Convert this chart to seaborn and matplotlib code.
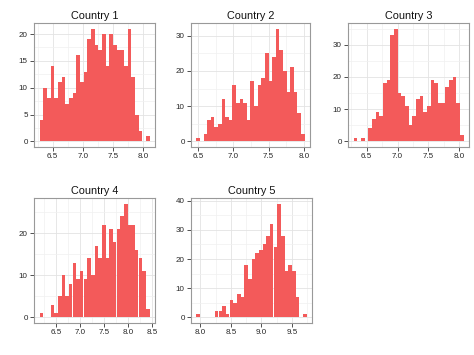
import numpy as np
import pandas as pd
import matplotlib
matplotlib.use("Agg")
import matplotlib.pyplot as plt
from matplotlib.ticker import AutoMinorLocator
import seaborn as sns

# ---- data: 30-bin histograms ----
countries = ["Country 1", "Country 2", "Country 3", "Country 4", "Country 5"]

bin_range_1 = (6.28, 8.11)
counts_1 = [4, 10, 8, 14, 8, 11, 12, 7, 8, 9, 16, 11, 13, 19, 21, 18, 17, 20, 14, 20,
            18, 17, 17, 14, 21, 12, 5, 2, 0, 1]

bin_range_2 = (6.477, 8.01)
counts_2 = [1, 0, 2, 6, 7, 4, 5, 12, 7, 6, 16, 11, 12, 11, 6, 17, 10, 16, 18, 25,
            17, 24, 32, 26, 20, 14, 21, 14, 8, 2]

bin_range_3 = (6.285, 8.07)
counts_3 = [1, 0, 1, 0, 4, 7, 9, 8, 18, 19, 33, 35, 15, 14, 11, 5, 8, 13, 14, 9,
            11, 19, 18, 12, 12, 17, 19, 20, 12, 2]

bin_range_4 = (6.153, 8.444)
counts_4 = [1, 0, 0, 3, 1, 5, 10, 5, 8, 13, 9, 11, 9, 14, 10, 17, 14, 22, 14, 21,
            18, 21, 24, 27, 22, 22, 16, 14, 11, 2]

bin_range_5 = (7.935, 9.74)
counts_5 = [1, 0, 0, 0, 0, 2, 2, 4, 1, 6, 5, 8, 7, 18, 13, 20, 22, 23, 25, 28,
            32, 24, 39, 28, 16, 18, 16, 7, 0, 1]

x_ticks = [[6.5, 7.0, 7.5, 8.0], [6.5, 7.0, 7.5, 8.0], [6.5, 7.0, 7.5, 8.0],
           [6.5, 7.0, 7.5, 8.0, 8.5], [8.0, 8.5, 9.0, 9.5]]
y_ticks = [[0, 5, 10, 15, 20], [0, 10, 20, 30], [0, 10, 20, 30],
           [0, 10, 20], [0, 10, 20, 30, 40]]

ranges = [bin_range_1, bin_range_2, bin_range_3, bin_range_4, bin_range_5]
counts = [counts_1, counts_2, counts_3, counts_4, counts_5]

sns.set_style("white")
plt.rcParams["font.family"] = ["Liberation Sans", "DejaVu Sans"]

fig = plt.figure(figsize=(4.74, 3.55), dpi=100)
W, H = 474.0, 355.0
rects_px = [(34, 23, 155, 147), (191, 23, 310, 147), (348, 23, 469, 147),
            (34, 198, 155, 323), (191, 198, 312, 323)]

bar_color = "#F35A5A"
border = "#999999"
txt = "#262626"

for i, name in enumerate(countries):
    l, t, r, b = rects_px[i]
    ax = fig.add_axes([l / W, 1 - b / H, (r - l) / W, (b - t) / H])
    lo, hi = ranges[i]
    nb = len(counts[i])
    edges = np.linspace(lo, hi, nb + 1)
    centers = (edges[:-1] + edges[1:]) / 2
    df = pd.DataFrame({"value": centers, "n": counts[i]})
    sns.histplot(data=df, x="value", weights="n", bins=nb, binrange=(lo, hi),
                 color=bar_color, alpha=1.0, linewidth=0, edgecolor="none",
                 ax=ax)
    ax.use_sticky_edges = False
    ymax = max(counts[i])
    span = hi - lo
    ax.set_xlim(lo - 0.05 * span, hi + 0.05 * span)
    ax.set_ylim(-0.05 * ymax, ymax * 1.05)
    ax.set_xticks(x_ticks[i])
    ax.set_xticklabels([f"{v:.1f}" for v in x_ticks[i]])
    ax.set_yticks(y_ticks[i])
    ax.set_yticklabels([str(v) for v in y_ticks[i]])
    ax.xaxis.set_minor_locator(AutoMinorLocator(2))
    ax.yaxis.set_minor_locator(AutoMinorLocator(2))
    ax.set_axisbelow(True)
    ax.grid(which="major", color="#E3E3E3", linewidth=0.6)
    ax.grid(which="minor", color="#F0F0F0", linewidth=0.5)
    ax.set_xlabel("")
    ax.set_ylabel("")
    ax.set_title(name, fontsize=7.8, color="#111111", pad=3)
    for s in ax.spines.values():
        s.set_visible(True)
        s.set_color(border)
        s.set_linewidth(0.8)
    ax.tick_params(which="major", direction="out", length=3, width=0.6,
                   color="#333333", labelsize=5.8, labelcolor=txt, pad=1.5,
                   bottom=True, left=True)
    ax.tick_params(which="minor", length=0)

fig.savefig("out.png", dpi=100)
